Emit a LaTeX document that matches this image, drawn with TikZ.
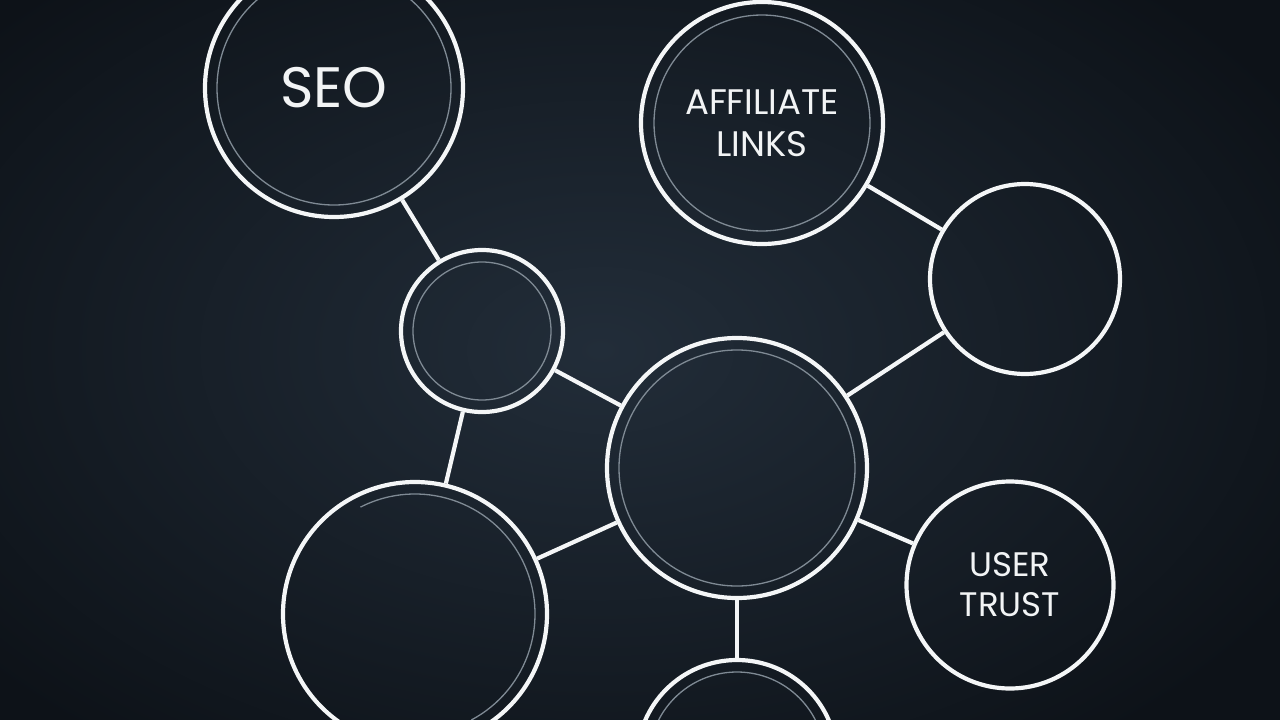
\documentclass[tikz,border=0pt]{standalone}
\usepackage{fontspec}
\setmainfont{Poppins}
\definecolor{bgin}{HTML}{222D39}
\definecolor{bgout}{HTML}{0D1218}
\definecolor{linew}{HTML}{F4F6F7}
\definecolor{ringc}{HTML}{7F8A94}
\definecolor{txtc}{HTML}{F2F4F5}
\tikzset{
  bubble/.style={circle, draw=linew, line width=4.2pt, inner sep=0pt, minimum size=#1, text=txtc, align=center},
  ring/.style={draw=ringc, line width=1.3pt},
  link/.style={draw=linew, line width=4.2pt},
}
\begin{document}
\begin{tikzpicture}[x=1pt,y=-1pt]
\useasboundingbox (0,0) rectangle (1280,720);
\shade[inner color=bgin, outer color=bgout] (-200,-150) rectangle (1400,850);
\begin{scope}
\clip (0,0) rectangle (1280,720);
% nodes
\node[bubble=258pt, font=\fontsize{57}{64}\selectfont] (seo) at (334,88) {SEO};
\node[bubble=242pt, font=\fontsize{35.5}{42}\selectfont] (aff) at (762,123) {AFFILIATE\\LINKS};
\node[bubble=190pt] (rempty) at (1025,279) {};
\node[bubble=162pt] (small) at (482,331) {};
\node[bubble=260pt] (central) at (737,468) {};
\node[bubble=264pt] (bleft) at (415,614) {};
\node[bubble=207pt, font=\fontsize{34}{40}\selectfont] (trust) at (1010,585) {USER\\TRUST};
\node[bubble=200pt] (bottom) at (737,760) {};
% inner rings
\draw[ring] (seo.center) circle[radius=117pt];
\draw[ring] (aff.center) circle[radius=108pt];
\draw[ring] (small.center) circle[radius=69pt];
\draw[ring] (central.center) circle[radius=118pt];
\draw[ring] (bottom.center) circle[radius=88pt];
\draw[ring] (bleft.center) ++(117:120pt) arc[start angle=117, end angle=-62, radius=120pt];
% connectors
\draw[link] (seo) -- (small);
\draw[link] (small) -- (central);
\draw[link] (small) -- (bleft);
\draw[link] (bleft) -- (central);
\draw[link] (central) -- (rempty);
\draw[link] (aff) -- (rempty);
\draw[link] (central) -- (trust);
\draw[link] (central) -- (bottom);
\end{scope}
\end{tikzpicture}
\end{document}
